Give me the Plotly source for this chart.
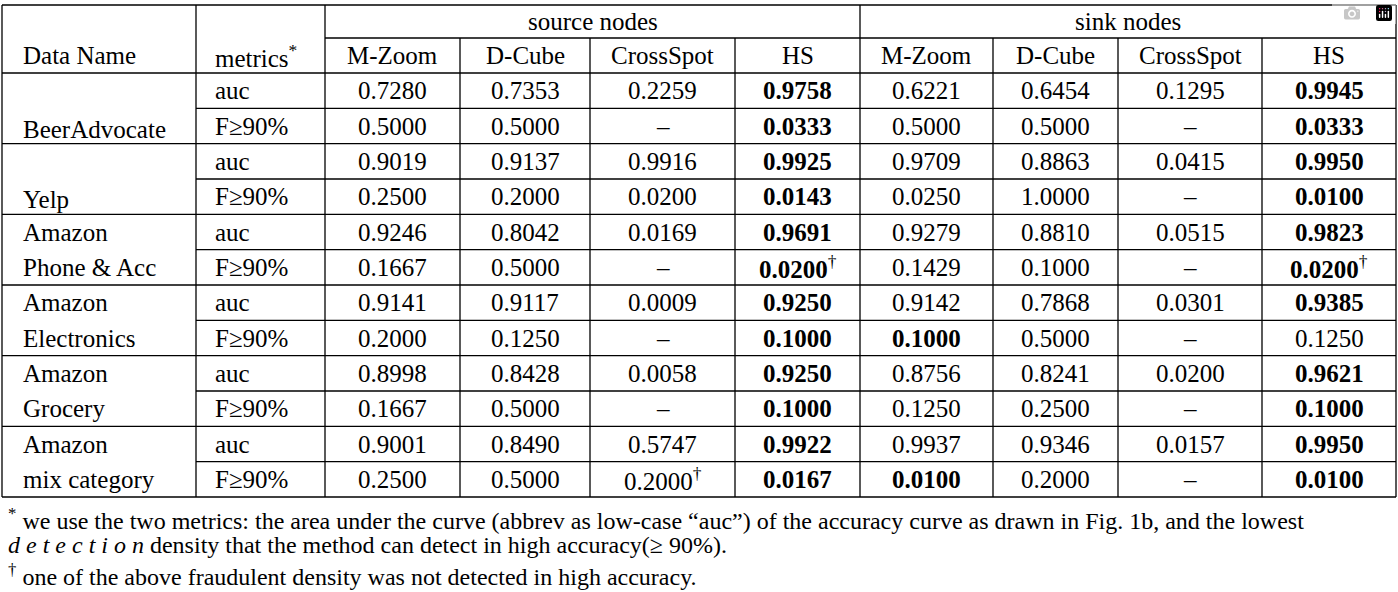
import plotly.graph_objects as go

datasets = [["BeerAdvocate"], ["Yelp"], ["Amazon", "Phone & Acc"], ["Amazon", "Electronics"],
            ["Amazon", "Grocery"], ["Amazon", "mix category"]]
metrics = ["auc", "F≥90%"]
methods = ["M-Zoom", "D-Cube", "CrossSpot", "HS"]
groups = ["source nodes", "sink nodes"]
values = [
    ["0.7280", "0.7353", "0.2259", "0.9758", "0.6221", "0.6454", "0.1295", "0.9945"],
    ["0.5000", "0.5000", "–", "0.0333", "0.5000", "0.5000", "–", "0.0333"],
    ["0.9019", "0.9137", "0.9916", "0.9925", "0.9709", "0.8863", "0.0415", "0.9950"],
    ["0.2500", "0.2000", "0.0200", "0.0143", "0.0250", "1.0000", "–", "0.0100"],
    ["0.9246", "0.8042", "0.0169", "0.9691", "0.9279", "0.8810", "0.0515", "0.9823"],
    ["0.1667", "0.5000", "–", "0.0200", "0.1429", "0.1000", "–", "0.0200"],
    ["0.9141", "0.9117", "0.0009", "0.9250", "0.9142", "0.7868", "0.0301", "0.9385"],
    ["0.2000", "0.1250", "–", "0.1000", "0.1000", "0.5000", "–", "0.1250"],
    ["0.8998", "0.8428", "0.0058", "0.9250", "0.8756", "0.8241", "0.0200", "0.9621"],
    ["0.1667", "0.5000", "–", "0.1000", "0.1250", "0.2500", "–", "0.1000"],
    ["0.9001", "0.8490", "0.5747", "0.9922", "0.9937", "0.9346", "0.0157", "0.9950"],
    ["0.2500", "0.5000", "0.2000", "0.0167", "0.0100", "0.2000", "–", "0.0100"],
]
bold = {(r, 3) for r in range(12)} | {(r, 7) for r in range(12)}
bold -= {(7, 7)}
bold |= {(7, 4), (11, 4)}
dagger = {(5, 3), (5, 7), (11, 2)}
footnotes = [
    "<sup>*</sup> we use the two metrics: the area under the curve (abbrev as low-case “auc”) of the accuracy curve as drawn in Fig. 1b, and the lowest",
    "<i>d e t e c t i o n</i> density that the method can detect in high accuracy(≥ 90%).",
    "<sup>†</sup> one of the above fraudulent density was not detected in high accuracy.",
]

xb = [2, 196, 325, 460, 590, 735, 860, 993, 1118, 1262, 1396]
ytop, yh1, yh2 = 5, 38, 73
rh = (497 - 73) / 12
FONT = "Liberation Serif"
FS = 25
shapes, ann = [], []
def line(x0, y0, x1, y1):
    shapes.append(dict(type="line", x0=x0, y0=y0, x1=x1, y1=y1, line=dict(color="black", width=1.3)))
def text(x, y, t, anchor="center", size=FS):
    ann.append(dict(x=x, y=y, text=t, showarrow=False, xanchor=anchor, yanchor="middle",
                    font=dict(family=FONT, size=size, color="black")))

ybot = yh2 + 12 * rh
line(xb[0], ytop, xb[-1], ytop)
line(xb[2], yh1, xb[-1], yh1)
line(xb[0], yh2, xb[-1], yh2)
line(xb[0], ybot, xb[-1], ybot)
for i, x in enumerate(xb):
    line(x, ytop if i in (0, 1, 2, 6, 10) else yh1, x, ybot)
for g in range(1, 6):
    line(xb[0], yh2 + 2 * g * rh, xb[-1], yh2 + 2 * g * rh)
for g in range(6):
    line(xb[1], yh2 + (2 * g + 1) * rh, xb[-1], yh2 + (2 * g + 1) * rh)

text((xb[2] + xb[6]) / 2, (ytop + yh1) / 2, groups[0])
text((xb[6] + xb[10]) / 2, (ytop + yh1) / 2, groups[1])
hy = (yh1 + yh2) / 2
text(xb[0] + 19, hy, "Data Name", "left")
text(xb[1] + 17, hy, "metrics<sup>*</sup>", "left")
for k in range(8):
    text((xb[3 + k] + xb[2 + k]) / 2, hy, methods[k % 4])

for g, name in enumerate(datasets):
    for j, part in enumerate(name if len(name) == 2 else [name[0]]):
        rr = 2 * g + (j if len(name) == 2 else 1)
        text(xb[0] + 19, yh2 + (rr + 0.5) * rh + (3 if len(name) == 1 else 0), part, "left")
for r in range(12):
    yc = yh2 + (r + 0.5) * rh
    text(xb[1] + 17, yc, metrics[r % 2], "left")
    for c in range(8):
        t = values[r][c]
        if (r, c) in bold:
            t = "<b>" + t + "</b>"
        if (r, c) in dagger:
            t += "<sup>†</sup>"
        text((xb[2 + c] + xb[3 + c]) / 2, yc, t)

for fy, ft in zip([519, 545, 575], footnotes):
    text(6, fy, ft, "left", 24)

fig = go.Figure()
fig.update_layout(width=1398, height=592, margin=dict(l=0, r=0, t=0, b=0),
                  plot_bgcolor="white", paper_bgcolor="white", shapes=shapes, annotations=ann,
                  xaxis=dict(range=[0, 1398], visible=False, fixedrange=True),
                  yaxis=dict(range=[592, 0], visible=False, fixedrange=True), showlegend=False)
fig.write_html("out.html", post_script="document.body.style.margin='0';document.body.style.overflow='hidden';")
